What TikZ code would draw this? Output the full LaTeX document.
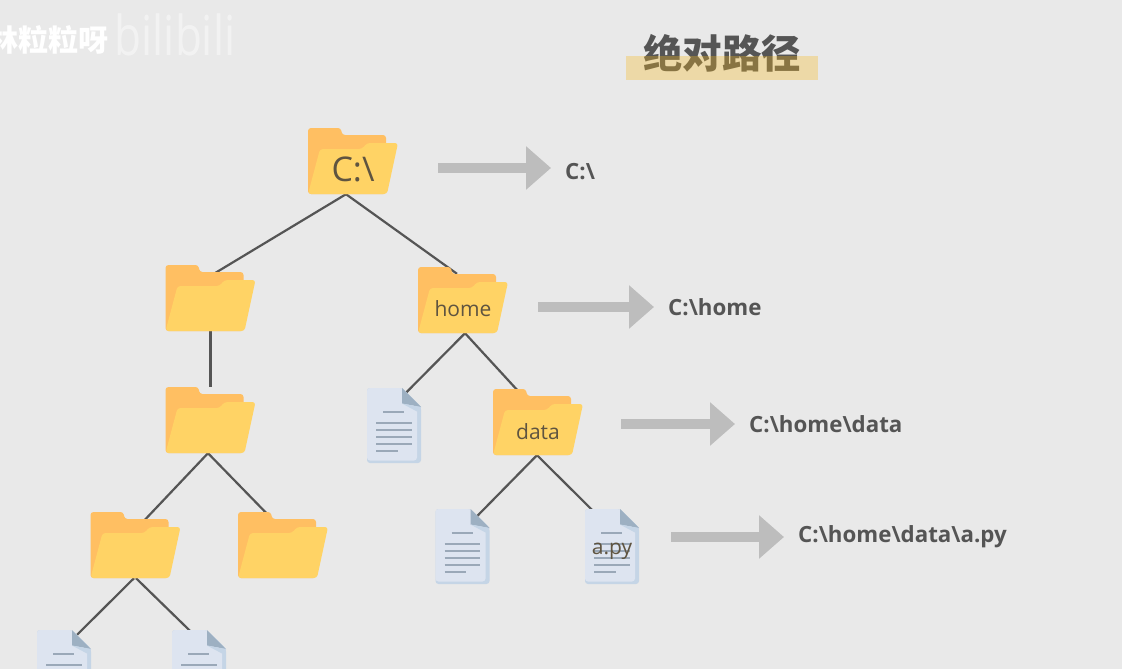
\documentclass[tikz,border=0pt]{standalone}
\usepackage{fontspec}
\setmainfont{Open Sans}
\newfontfamily\cjkfont{Noto Sans CJK SC}
\usetikzlibrary{arrows.meta, backgrounds}
\definecolor{pagefill}{HTML}{E9E9E9}
\definecolor{folderback}{HTML}{FFBF62}
\definecolor{folderfront}{HTML}{FFD365}
\definecolor{foldertext}{HTML}{5F5440}
\definecolor{docfill}{HTML}{DDE4F0}
\definecolor{docshade}{HTML}{C5D5E6}
\definecolor{docfold}{HTML}{9DB0C2}
\definecolor{docline}{HTML}{9AA8B8}
\definecolor{darkline}{HTML}{555555}
\definecolor{arrowgray}{HTML}{BDBDBD}
\definecolor{titlemark}{HTML}{F6B81E}
\tikzset{
  folder/.style={rectangle, inner sep=0pt, minimum width=90pt, minimum height=66pt,
    path picture={
      \begin{scope}[shift={(path picture bounding box.center)}]
        \fill[folderback, rounded corners=3pt] (-45,33) -- (-45,-33) -- (-12,-33) -- (-11,-26) -- (33,-26) -- (33,33) -- cycle;
        \fill[folderfront, rounded corners=3pt] (-45,33) -- (-33,-12) -- (9,-12) -- (14,-18) -- (45,-18) -- (34,33) -- cycle;
      \end{scope}
    }},
  document/.style={rectangle, inner sep=0pt, minimum width=54pt, minimum height=75pt,
    path picture={
      \begin{scope}[shift={(path picture bounding box.center)}]
        \fill[docshade, rounded corners=3pt] (-27,-37.5) -- (8,-37.5) -- (27,-19) -- (27,37.5) -- (-27,37.5) -- cycle;
        \fill[docfill, rounded corners=3pt] (-27,-37.5) -- (8,-37.5) -- (23,-22) -- (23,35) -- (-27,35) -- cycle;
        \fill[docfold] (8,-37.5) -- (8,-22) -- (27,-18.5) -- cycle;
        \fill[docshade] (8,-22) -- (27,-18.5) -- (23,-14) -- cycle;
        \draw[docline, line width=1.7pt] (-11,-13.2) -- (10,-13.2);
        \foreach \ypos in {-2.8,4.4,11.5,18.5} {
          \draw[docline, line width=1.7pt] (-18,\ypos) -- (17.5,\ypos);
        }
        \draw[docline, line width=1.7pt] (-18,25.5) -- (3.5,25.5);
      \end{scope}
    }},
  itemname/.style={anchor=base, inner sep=0pt, text=foldertext, font=\fontsize{21}{21}\selectfont},
  treeline/.style={draw=darkline, line width=2.2pt},
  patharrow/.style={-{Triangle[length=25pt, width=42pt]}, draw=arrowgray, line width=10.5pt, shorten >=14pt},
  pathlabel/.style={anchor=west, inner sep=0pt, text=darkline, font=\fontsize{22.3}{22.3}\selectfont\bfseries}
}

\begin{document}
\begin{tikzpicture}[x=1pt, y=-1pt]

\path[use as bounding box] (0,0) rectangle (1122,669);

% title and watermark
\node[inner sep=0pt, text=darkline, font=\fontsize{39.5}{39.5}\selectfont\cjkfont\bfseries] (title) at (722,53) {绝对路径};
\path[fill=titlemark, fill opacity=0.32] (626,56) rectangle (818,80);
\node[anchor=west, inner sep=0pt, text=white, font=\fontsize{30}{30}\selectfont\cjkfont\bfseries] (owner) at (-12,40) {林粒粒呀};
\node[inner sep=0pt, text=white, text opacity=0.45, font=\fontsize{44}{44}\selectfont, yscale=1.25, transform shape] (logo) at (175,35) {bilibili};

% left branch
\node[folder] (leftdir) at (210.5,298) {};
\node[folder] (leftsub) at (210.5,420) {};
\node[folder] (subleft) at (135.5,545) {};
\node[folder] (subright) at (283,545) {};
\node[document] (leftdoc) at (64,667.5) {};
\node[document] (rightdoc) at (199,667.5) {};

% right branch
\node[folder] (root) at (353,161) {};
\node[folder] (home) at (463,300) {};
\node[document] (homedoc) at (394,425.5) {};
\node[folder] (data) at (538,422) {};
\node[document] (datadoc) at (462.5,546.5) {};
\node[document] (apy) at (612,546.5) {};

\node[itemname, font=\fontsize{34}{34}\selectfont] (rootname) at ([yshift=-20pt]root.center) {C:\textbackslash};
\node[itemname] (homename) at ([yshift=-16pt]home.center) {home};
\node[itemname] (dataname) at ([yshift=-17pt]data.center) {data};
\node[itemname] (apyname) at ([yshift=-7.5pt]apy.center) {a.py};

% printed paths
\node[pathlabel] (rootpath) at (565,171.5) {C:\textbackslash};
\node[pathlabel] (homepath) at (668,307) {C:\textbackslash home};
\node[pathlabel] (datapath) at (749,424) {C:\textbackslash home\textbackslash data};
\node[pathlabel] (filepath) at (798,537) {C:\textbackslash home\textbackslash data\textbackslash a.py};

\coordinate (rootout) at (438,168);
\coordinate (homeout) at (538,307);
\coordinate (dataout) at (621,424);
\coordinate (fileout) at (671,537);

\draw[patharrow] (rootout) -- (rootout -| rootpath.west);
\draw[patharrow] (homeout) -- (homeout -| homepath.west);
\draw[patharrow] (dataout) -- (dataout -| datapath.west);
\draw[patharrow] (fileout) -- (fileout -| filepath.west);

\begin{pgfonlayer}{background}
  \fill[pagefill] (0,0) rectangle (1122,669);
  \draw[treeline] ([xshift=-7pt]root.south) -- ([shift={(5,8)}]leftdir.north);
  \draw[treeline] ([xshift=-7pt]root.south) -- ([shift={(-6,7)}]home.north);
  \draw[treeline] (leftdir.south) -- (leftsub.north);
  \draw[treeline] ([xshift=2pt]home.south) -- ([shift={(6,11)}]homedoc.north);
  \draw[treeline] ([xshift=2pt]home.south) -- ([shift={(-21,1)}]data.north);
  \draw[treeline] ([xshift=-1pt]data.south) -- ([shift={(10,12)}]datadoc.north);
  \draw[treeline] ([xshift=-1pt]data.south) -- ([shift={(-19,2)}]apy.north);
  \draw[treeline] ([xshift=-2.5pt]leftsub.south) -- ([shift={(7.5,10)}]subleft.north);
  \draw[treeline] ([xshift=-2.5pt]leftsub.south) -- ([shift={(-15,3)}]subright.north);
  \draw[treeline] ([xshift=-1.5pt]subleft.south) -- ([shift={(8,10)}]leftdoc.north);
  \draw[treeline] ([xshift=0.5pt]subleft.south) -- ([shift={(-9,1)}]rightdoc.north);
\end{pgfonlayer}

\end{tikzpicture}
\end{document}
